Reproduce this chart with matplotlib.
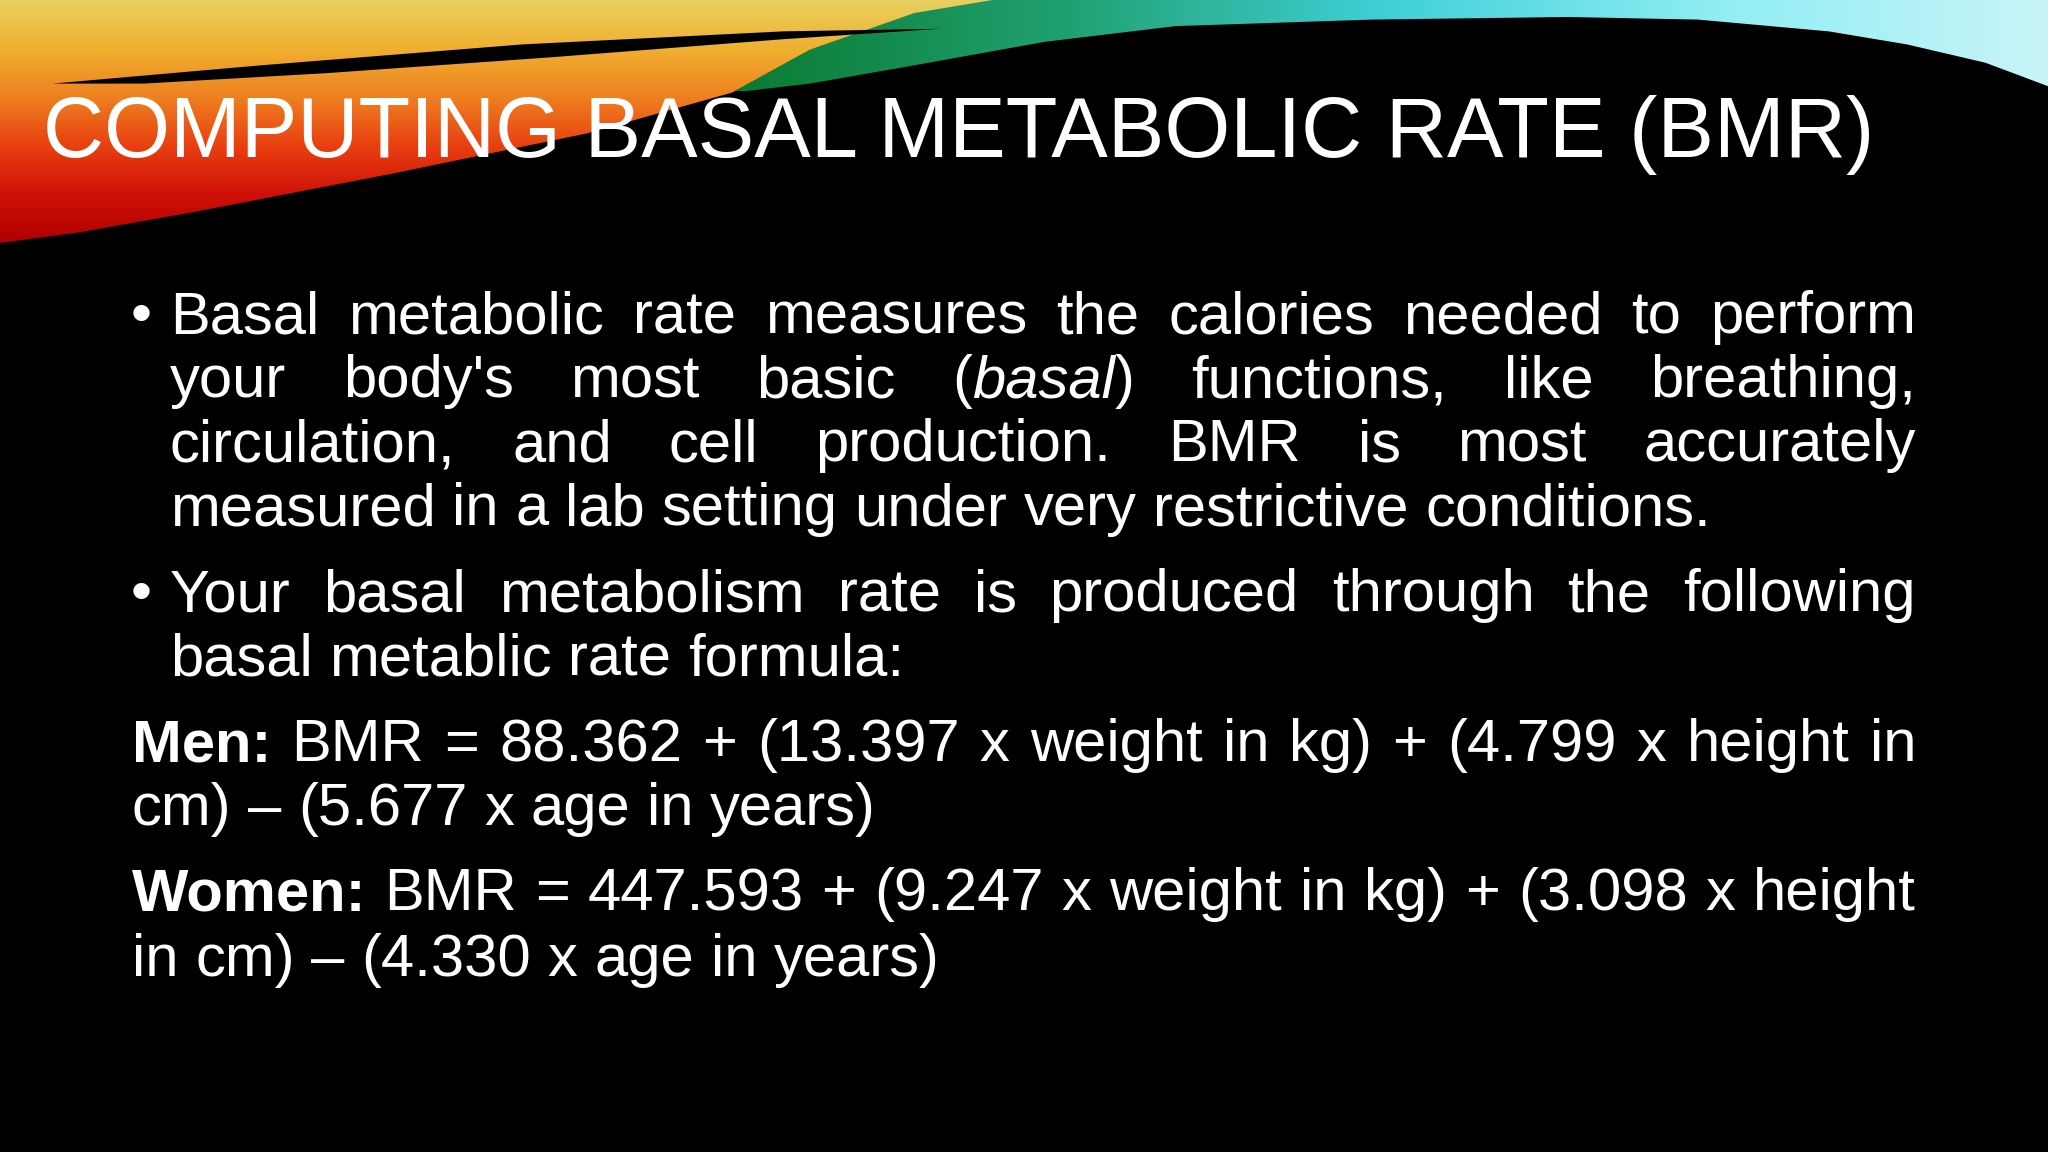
import matplotlib
matplotlib.use('Agg')
import matplotlib.pyplot as plt
import numpy as np
from matplotlib.patches import Polygon
from matplotlib.colors import LinearSegmentedColormap

W, H = 1568, 882
SCALE = 2048 / W
FONT = 'Liberation Sans'
BODY_PT = 43

title = 'COMPUTING BASAL METABOLIC RATE (BMR)'

def w(s, style='n'):
    return [(s, style)]

def plain(s):
    return [w(x) for x in s.split()]

bullet1_line2 = [w('your'), w("body's"), w('most'), w('basic'),
                 [('(', 'n'), ('basal', 'i'), (')', 'n')],
                 w('functions,'), w('like'), w('breathing,')]

# (x_left, baseline_y, justified, words)
lines = [
    (130, 255, True, plain("Basal metabolic rate measures the calories needed to perform")),
    (130, 304, True, bullet1_line2),
    (130, 353, True, plain("circulation, and cell production. BMR is most accurately")),
    (130, 402, False, plain("measured in a lab setting under very restrictive conditions.")),
    (130, 468, True, plain("Your basal metabolism rate is produced through the following")),
    (130, 517, False, plain("basal metablic rate formula:")),
    (101, 583, True, [w('Men:', 'b')] + plain("BMR = 88.362 + (13.397 x weight in kg) + (4.799 x height in")),
    (101, 632, False, plain("cm) \u2013 (5.677 x age in years)")),
    (101, 697, True, [w('Women:', 'b')] + plain("BMR = 447.593 + (9.247 x weight in kg) + (3.098 x height")),
    (101, 747, False, plain("in cm) \u2013 (4.330 x age in years)")),
]
bullets_y = [255, 468]
RIGHT = 1467

fig = plt.figure(figsize=(20.48, 11.52), dpi=100, facecolor='black')
ax = fig.add_axes([0, 0, 1, 1])
ax.set_xlim(0, W)
ax.set_ylim(H, 0)
ax.axis('off')

# decorative swooshes
warm = LinearSegmentedColormap.from_list('warm', ['#e8d060', '#f0b030', '#ee8020', '#e84010', '#d01008', '#b00000'])
cool = LinearSegmentedColormap.from_list('cool', ['#0a7a30', '#20a070', '#40d0d8', '#90eef4', '#c8f4f8'])

def gradient_fill(verts, cmap, extent, direction):
    patch = Polygon(verts, closed=True, facecolor='none', edgecolor='none')
    ax.add_patch(patch)
    g = np.linspace(0, 1, 256)
    img = np.outer(g, np.ones(2)) if direction == 'v' else np.outer(np.ones(2), g)
    im = ax.imshow(img, cmap=cmap, extent=extent, aspect='auto', zorder=1, origin='upper')
    im.set_clip_path(patch)

gradient_fill([(0, 0), (770, 0), (700, 12), (620, 42), (560, 71), (450, 102),
               (300, 133), (150, 162), (60, 178), (0, 186)],
              warm, (0, 770, 186, 0), 'v')
gradient_fill([(560, 71), (620, 38), (700, 10), (760, 0), (1568, 0), (1568, 66),
               (1520, 48), (1460, 34), (1400, 24), (1300, 15), (1200, 13),
               (1050, 15), (900, 20), (800, 32), (700, 50), (620, 64)],
              cool, (560, 1568, 70, 0), 'h')
ax.add_patch(Polygon([(40, 64), (200, 50), (400, 34), (600, 24), (720, 22),
                      (600, 30), (420, 44), (250, 56), (110, 64)],
                     closed=True, facecolor='black', edgecolor='none', zorder=2))

ax.text(33, 120, title, color='white', fontsize=61, family=FONT, va='baseline', zorder=5)

fig.canvas.draw()
renderer = fig.canvas.get_renderer()

def seg_props(style):
    return dict(fontweight='bold' if style == 'b' else 'normal',
                fontstyle='italic' if style == 'i' else 'normal')

def width(text, style):
    t = ax.text(0, 0, text, fontsize=BODY_PT, family=FONT, **seg_props(style))
    bb = t.get_window_extent(renderer)
    t.remove()
    return bb.width / SCALE

space = width('a a', 'n') - width('aa', 'n')

for x0, y, just, words in lines:
    wlens = [[width(s, st) for s, st in word] for word in words]
    total = sum(sum(l) for l in wlens)
    gap = (RIGHT - x0 - total) / (len(words) - 1) if just else space
    x = x0
    for word, lens in zip(words, wlens):
        for (s, st), l in zip(word, lens):
            ax.text(x, y, s, color='white', fontsize=BODY_PT, family=FONT,
                    va='baseline', zorder=5, **seg_props(st))
            x += l
        x += gap

for y in bullets_y:
    ax.text(100, y, '\u2022', color='white', fontsize=BODY_PT, family=FONT, va='baseline', zorder=5)

fig.savefig('out.png', dpi=100, facecolor='black')
